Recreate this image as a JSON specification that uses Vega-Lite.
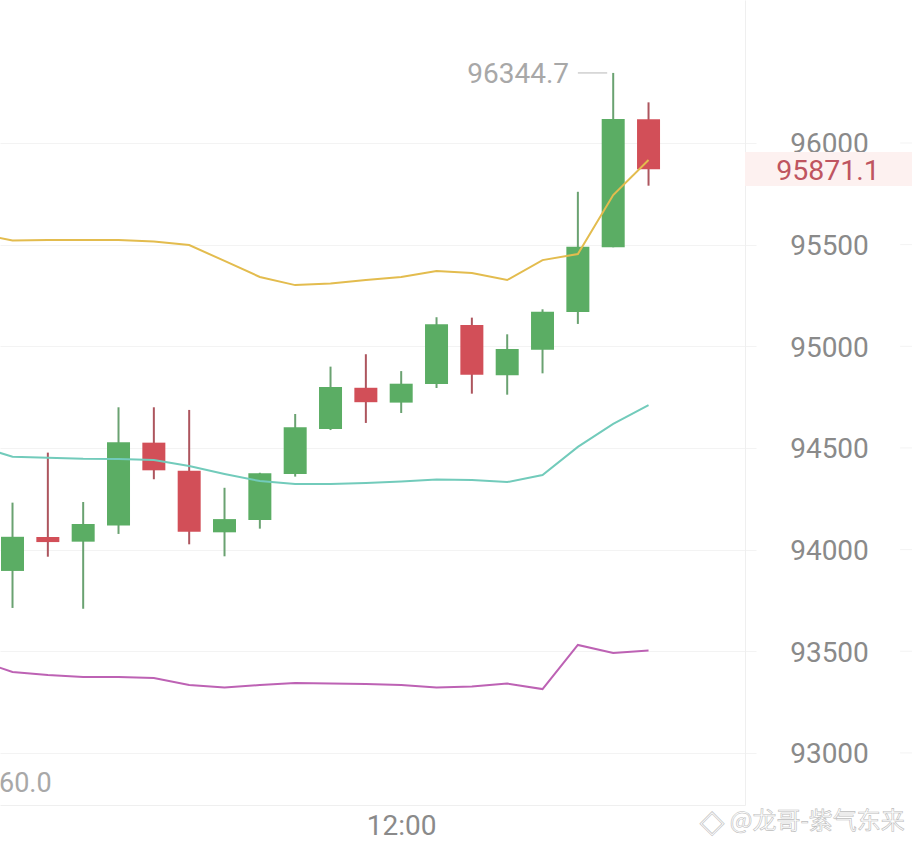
{
  "$schema": "https://vega.github.io/schema/vega-lite/v6.json",
  "autosize": "none",
  "padding": {"left": 0, "top": 0, "right": 167, "bottom": 38},
  "width": 745,
  "height": 805,
  "background": "#ffffff",
  "config": {"view": {"stroke": null}, "text": {"font": "Roboto"}, "axis": {"labelFont": "Roboto"}},
  "datasets": {
    "candles": [
      {"hour": 1, "open": 93895, "close": 94063, "high": 94231, "low": 93713},
      {"hour": 2, "open": 94062, "close": 94037, "high": 94477, "low": 93965},
      {"hour": 3, "open": 94039, "close": 94126, "high": 94234, "low": 93709},
      {"hour": 4, "open": 94118, "close": 94528, "high": 94700, "low": 94077},
      {"hour": 5, "open": 94526, "close": 94390, "high": 94700, "low": 94346},
      {"hour": 6, "open": 94388, "close": 94088, "high": 94687, "low": 94026},
      {"hour": 7, "open": 94085, "close": 94150, "high": 94304, "low": 93967},
      {"hour": 8, "open": 94146, "close": 94375, "high": 94378, "low": 94103},
      {"hour": 9, "open": 94372, "close": 94602, "high": 94667, "low": 94359},
      {"hour": 10, "open": 94593, "close": 94800, "high": 94900, "low": 94588},
      {"hour": 11, "open": 94796, "close": 94725, "high": 94961, "low": 94623},
      {"hour": 12, "open": 94723, "close": 94816, "high": 94878, "low": 94672},
      {"hour": 13, "open": 94815, "close": 95108, "high": 95143, "low": 94795},
      {"hour": 14, "open": 95105, "close": 94860, "high": 95141, "low": 94767},
      {"hour": 15, "open": 94857, "close": 94987, "high": 95059, "low": 94762},
      {"hour": 16, "open": 94983, "close": 95170, "high": 95182, "low": 94867},
      {"hour": 17, "open": 95169, "close": 95490, "high": 95760, "low": 95110},
      {"hour": 18, "open": 95487, "close": 96118, "high": 96344.7, "low": 95487},
      {"hour": 19, "open": 96117, "close": 95871.1, "high": 96200, "low": 95790}
    ],
    "bands": [
      {"hour": 0, "upper": 95557, "middle": 94510, "lower": 93457},
      {"hour": 1, "upper": 95520, "middle": 94457, "lower": 93398},
      {"hour": 2, "upper": 95523, "middle": 94452, "lower": 93383},
      {"hour": 3, "upper": 95523, "middle": 94447, "lower": 93373},
      {"hour": 4, "upper": 95523, "middle": 94446, "lower": 93373},
      {"hour": 5, "upper": 95515, "middle": 94441, "lower": 93368},
      {"hour": 6, "upper": 95498, "middle": 94411, "lower": 93334},
      {"hour": 7, "upper": 95420, "middle": 94372, "lower": 93322},
      {"hour": 8, "upper": 95341, "middle": 94337, "lower": 93334},
      {"hour": 9, "upper": 95301, "middle": 94323, "lower": 93344},
      {"hour": 10, "upper": 95309, "middle": 94323, "lower": 93341},
      {"hour": 11, "upper": 95326, "middle": 94328, "lower": 93339},
      {"hour": 12, "upper": 95341, "middle": 94335, "lower": 93334},
      {"hour": 13, "upper": 95370, "middle": 94345, "lower": 93322},
      {"hour": 14, "upper": 95361, "middle": 94342, "lower": 93326},
      {"hour": 15, "upper": 95326, "middle": 94332, "lower": 93341},
      {"hour": 16, "upper": 95424, "middle": 94367, "lower": 93314},
      {"hour": 17, "upper": 95454, "middle": 94505, "lower": 93531},
      {"hour": 18, "upper": 95744, "middle": 94618, "lower": 93491},
      {"hour": 19, "upper": 95916, "middle": 94711, "lower": 93504}
    ],
    "levels": [
      {"price": 93000}, {"price": 93500}, {"price": 94000}, {"price": 94500},
      {"price": 95000}, {"price": 95500}, {"price": 96000}
    ]
  },
  "layer": [
    {
      "data": {"name": "levels"},
      "mark": {"type": "rule", "color": "#f3f3f3", "strokeWidth": 1},
      "encoding": {
        "x": {
          "datum": 26.12,
          "type": "quantitative",
          "scale": {"domain": [0.646, 21.73], "nice": false, "zero": false, "padding": 0},
          "axis": {
            "title": null, "values": [12], "labelExpr": "datum.value + ':00'",
            "grid": false, "ticks": false, "domainColor": "#efefef",
            "labelFontSize": 28, "labelColor": "#8a8a8a", "labelPadding": 7, "labelBaseline": "top"
          }
        },
        "x2": {"datum": 26.46},
        "y": {
          "field": "price",
          "type": "quantitative",
          "scale": {"domain": [92743.7, 96703.4], "nice": false, "zero": false},
          "axis": {
            "title": null, "orient": "right", "values": [93000, 93500, 94000, 94500, 95000, 95500, 96000],
            "format": "d", "grid": true, "gridColor": "#f3f3f3", "tickColor": "#f3f3f3", "tickSize": 11,
            "domainColor": "#efefef", "labelFontSize": 28, "labelColor": "#8a8a8a",
            "labelAlign": "center", "labelPadding": 73, "labelOffset": 2
          }
        }
      }
    },
    {
      "mark": {"type": "rect", "color": "#fdf1f0"},
      "data": {"values": [{}]},
      "encoding": {
        "x": {"datum": 21.73, "type": "quantitative"},
        "x2": {"datum": 26.46},
        "y": {"datum": 95956, "type": "quantitative"},
        "y2": {"datum": 95788}
      }
    },
    {
      "data": {"name": "candles"},
      "mark": {"type": "rule", "strokeWidth": 2},
      "encoding": {
        "x": {"field": "hour", "type": "quantitative"},
        "y": {"field": "low", "type": "quantitative"},
        "y2": {"field": "high"},
        "color": {"condition": {"test": "datum.close >= datum.open", "value": "#6aa271"}, "value": "#ad555e"}
      }
    },
    {
      "data": {"name": "candles"},
      "mark": {"type": "bar", "size": 23},
      "encoding": {
        "x": {"field": "hour", "type": "quantitative"},
        "y": {"field": "open", "type": "quantitative"},
        "y2": {"field": "close"},
        "color": {"condition": {"test": "datum.close >= datum.open", "value": "#5bad64"}, "value": "#d24f58"}
      }
    },
    {
      "data": {"name": "bands"},
      "mark": {"type": "line", "color": "#e3bc4e", "strokeWidth": 2},
      "encoding": {
        "x": {"field": "hour", "type": "quantitative"},
        "y": {"field": "upper", "type": "quantitative"}
      }
    },
    {
      "data": {"name": "bands"},
      "mark": {"type": "line", "color": "#72cbbb", "strokeWidth": 2},
      "encoding": {
        "x": {"field": "hour", "type": "quantitative"},
        "y": {"field": "middle", "type": "quantitative"}
      }
    },
    {
      "data": {"name": "bands"},
      "mark": {"type": "line", "color": "#bd62b4", "strokeWidth": 2},
      "encoding": {
        "x": {"field": "hour", "type": "quantitative"},
        "y": {"field": "lower", "type": "quantitative"}
      }
    },
    {
      "data": {"values": [{"price": 96344.7}]},
      "mark": {"type": "rule", "color": "#cfcfcf", "strokeWidth": 1.5},
      "encoding": {
        "x": {"datum": 17.0, "type": "quantitative"},
        "x2": {"datum": 17.83},
        "y": {"field": "price", "type": "quantitative"}
      }
    },
    {
      "data": {"values": [{"price": 96344.7, "label": "96344.7"}]},
      "mark": {"type": "text", "align": "right", "baseline": "middle", "dy": 2, "fontSize": 28, "color": "#a8a8a8"},
      "encoding": {
        "x": {"datum": 16.75, "type": "quantitative"},
        "y": {"field": "price", "type": "quantitative"},
        "text": {"field": "label"}
      }
    },
    {
      "data": {"values": [{"price": 95871.1, "label": "95871.1"}]},
      "mark": {"type": "text", "align": "center", "baseline": "middle", "dy": 2, "fontSize": 28.5, "color": "#bf5560"},
      "encoding": {
        "x": {"datum": 24.08, "type": "quantitative"},
        "y": {"field": "price", "type": "quantitative"},
        "text": {"field": "label"}
      }
    },
    {
      "data": {"values": [{"label": "60.0"}]},
      "mark": {"type": "text", "align": "left", "baseline": "middle", "dx": -1, "dy": 1, "fontSize": 27, "color": "#a8a8a8"},
      "encoding": {
        "x": {"datum": 0.646, "type": "quantitative"},
        "y": {"datum": 92852, "type": "quantitative"},
        "text": {"field": "label"}
      }
    },
    {
      "data": {"values": [{"label": "@龙哥-紫气东来"}]},
      "mark": {"type": "text", "align": "left", "baseline": "middle", "fontSize": 24, "font": "Noto Sans CJK SC", "color": "#ffffff", "stroke": "#bdbdbd", "strokeWidth": 0.6},
      "encoding": {
        "x": {"datum": 21.3, "type": "quantitative"},
        "y": {"datum": 92660, "type": "quantitative"},
        "text": {"field": "label"}
      }
    },
    {
      "data": {"values": [{"label": "◇"}]},
      "mark": {"type": "text", "align": "center", "baseline": "middle", "fontSize": 32, "font": "DejaVu Sans", "color": "#ffffff", "stroke": "#bdbdbd", "strokeWidth": 0.6},
      "encoding": {
        "x": {"datum": 20.8, "type": "quantitative"},
        "y": {"datum": 92660, "type": "quantitative"},
        "text": {"field": "label"}
      }
    }
  ]
}
